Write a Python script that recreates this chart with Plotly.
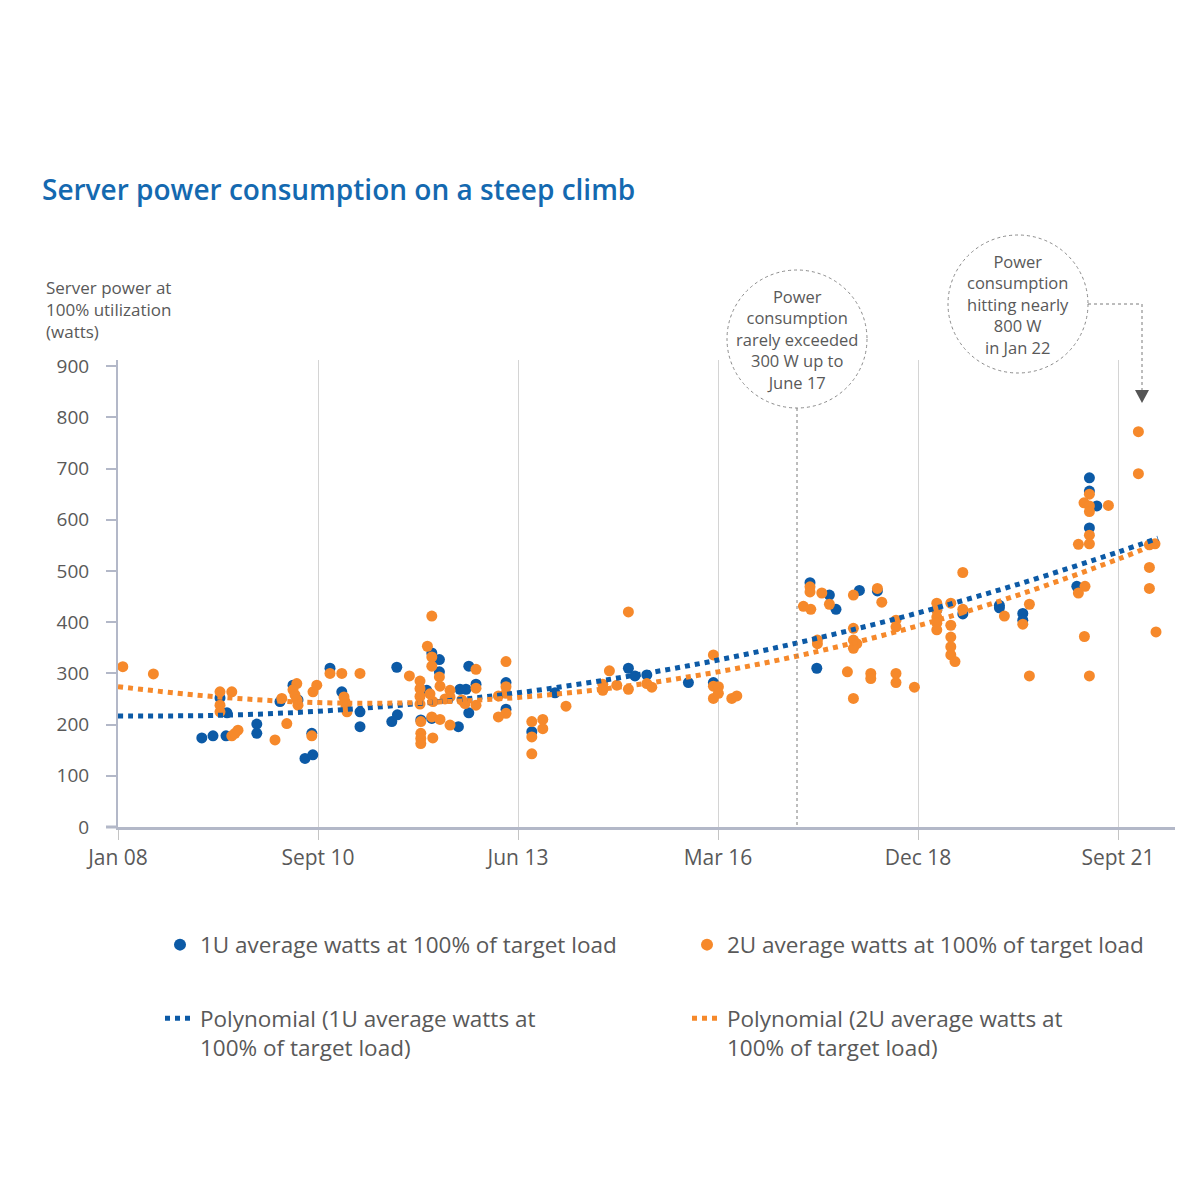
import plotly.graph_objects as go

# ---------------- data (x = days since 1 Jan 2008, y = watts) ----------------
tick_days = [0, 1000, 2000, 3000, 4000, 5000]
tick_labels = ["Jan 08", "Sept 10", "Jun 13", "Mar 16", "Dec 18", "Sept 21"]
y_ticks = [0, 100, 200, 300, 400, 500, 600, 700, 800, 900]

u1_days = [419, 475, 540, 545, 510, 694, 694, 810, 875, 900, 935, 974, 969, 1060, 1119,
           1210, 1210, 1394, 1369, 1397, 1569, 1607, 1607, 1544, 1569, 1514, 1710, 1740,
           1754, 1790, 1754, 1702, 1940, 1940, 2069, 2185, 2552, 2585, 2644, 2852, 2977,
           3460, 3557, 3590, 3494, 3707, 3797, 4094, 4224, 4407, 4407, 4524, 4524, 4794,
           4857, 4857, 4894, 4857]
u1_watts = [174, 178, 178, 223, 252, 201, 183, 245, 277, 248, 134, 141, 183, 310, 264,
            225, 196, 312, 206, 219, 340, 327, 303, 267, 212, 209, 269, 269,
            314, 279, 223, 196, 282, 230, 186, 262, 310, 295, 297, 282, 282,
            477, 453, 425, 310, 462, 461, 424, 416, 433, 428, 417, 404, 470,
            682, 656, 627, 584]

u2_days = [24, 177, 510, 569, 510, 510, 569, 585, 600, 785, 819, 844, 894, 875, 885, 895,
           900, 975, 994, 969, 1060, 1119, 1210, 1130, 1135, 1140, 1145, 1457, 1569, 1547,
           1569, 1569, 1607, 1510, 1510, 1510, 1510, 1560, 1575, 1610, 1635, 1660, 1660,
           1719, 1735, 1790, 1790, 1790, 1660, 1569, 1610, 1514, 1514, 1514, 1514, 1574,
           1940, 1940, 1902, 1940, 1940, 1902, 2069, 2069, 2124, 2124, 2069, 2240, 2457,
           2424, 2424, 2552, 2494, 2552, 2644, 2669, 2977, 2977, 3002, 2977, 3002, 3069,
           3094, 3460, 3460, 3427, 3464, 3519, 3557, 3497, 3497, 3677, 3677, 3677, 3694,
           3677, 3647, 3677, 3797, 3819, 3764, 3764, 3890, 3890, 3890, 3890, 3982, 4094,
           4094, 4094, 4094, 4094, 4164, 4164, 4164, 4164, 4164, 4185, 4224, 4224, 4432,
           4524, 4557, 4557, 4830, 4857, 4857, 4857, 4952, 4857, 4857, 4802, 4802, 4835,
           4832, 4857, 5102, 5102, 5157, 5185, 5157, 5157, 5190]
u2_watts = [313, 299, 264, 264, 238, 225, 178, 183, 189, 170, 251, 202, 280, 268, 258, 248,
            238, 264, 277, 178, 300, 300, 300, 254, 245, 235, 225, 295, 412, 353,
            332, 314, 293, 285, 270, 255, 240, 260, 245, 275, 250, 267, 254,
            248, 241, 308, 271, 238, 199, 215, 210, 206, 183, 173, 163, 174,
            323, 274, 256, 261, 222, 215, 206, 176, 210, 192, 143, 236, 305,
            279, 267, 420, 277, 269, 280, 273, 336, 275, 274, 251, 261, 251,
            256, 469, 459, 431, 425, 457, 435, 365, 358, 453, 388, 365, 358,
            349, 303, 251, 466, 439, 300, 290, 404, 391, 300, 282, 273, 437,
            424, 410, 398, 385, 437, 394, 371, 352, 336, 323, 497, 425, 412,
            396, 435, 295, 633, 627, 616, 650, 628, 570, 553, 552, 457, 470,
            372, 295, 772, 690, 551, 553, 507, 466, 381]

# polynomial trendlines, values
trend_days = [0, 500, 1000, 1500, 2000, 2500, 3000, 3500, 4000, 4500, 5000, 5200]
trend_u1 = [217, 218, 226, 241, 262, 291, 326, 369, 418, 474, 537, 564]
trend_u2 = [274, 254, 243, 243, 253, 273, 303, 343, 393, 453, 523, 554]

# ---------------- style ----------------
BLUE = "#0c5aa6"
ORANGE = "#f6892b"
GRAY = "#595959"
AXIS = "#b3b8c8"
FONT = "Open Sans"

OFF = 8  # page offset of the figure inside the browser window
# plot area in page pixels
L, R, T, B = 118, 1175, 360, 827
W, H = R - L, B - T


def px(xp):
    return (xp - L) / W


def py(yp):
    return (B - yp) / H


fig = go.Figure()
fig.add_trace(go.Scatter(x=u1_days, y=u1_watts, mode="markers", name="1U average watts at 100% of target load",
                         marker=dict(color=BLUE, size=11, line=dict(width=0)), legend="legend"))
fig.add_trace(go.Scatter(x=u2_days, y=u2_watts, mode="markers", name="2U average watts at 100% of target load",
                         marker=dict(color=ORANGE, size=11, line=dict(width=0)), legend="legend2"))
fig.add_trace(go.Scatter(x=trend_days, y=trend_u1, mode="lines", line_shape="spline",
                         name="Polynomial (1U average watts at<br>100% of target load)",
                         line=dict(color=BLUE, width=5, dash="5px,5px"), legend="legend3"))
fig.add_trace(go.Scatter(x=trend_days, y=trend_u2, mode="lines", line_shape="spline",
                         name="Polynomial (2U average watts at<br>100% of target load)",
                         line=dict(color=ORANGE, width=5, dash="5px,5px"), legend="legend4"))

LEG_FONT = dict(size=22.5, color=GRAY)
COL1, COL2 = 160, 687


def leg(xpage, ypage, anchor, valign="middle", sizing="trace"):
    return dict(orientation="h", x=px(xpage), y=py(ypage), xanchor="left", yanchor=anchor,
                font=LEG_FONT, bgcolor="rgba(0,0,0,0)", valign=valign, itemsizing=sizing)


fig.update_layout(
    width=1200, height=1200,
    margin=dict(l=L - OFF, r=1200 - (R - OFF), t=T - OFF, b=1200 - (B - OFF), pad=0),
    plot_bgcolor="white", paper_bgcolor="white",
    font=dict(family=FONT, color=GRAY),
    title=dict(text="Server power consumption on a steep climb", xref="container", yref="container",
               x=(42 - OFF) / 1200, xanchor="left", y=1 - (190 - OFF) / 1200, yanchor="middle",
               font=dict(family=FONT, size=28, color="#1469b0", weight=600)),
    xaxis=dict(range=[0, 5285], tickvals=tick_days, ticktext=tick_labels,
               showgrid=True, gridcolor="#d4d4d4", gridwidth=1,
               showline=True, linecolor=AXIS, linewidth=3,
               ticks="outside", ticklen=10, tickcolor="#c4c4c4", tickwidth=1,
               tickfont=dict(size=21, color=GRAY), zeroline=False),
    yaxis=dict(range=[0, 912], tickvals=y_ticks, showgrid=False, zeroline=False,
               showline=True, linecolor=AXIS, linewidth=2,
               ticks="outside", ticklen=10, tickcolor=AXIS, tickwidth=2,
               ticklabelstandoff=13, tickfont=dict(size=19, color=GRAY)),
    showlegend=True,
    legend=leg(COL1, 945, "middle", sizing="constant"),
    legend2=leg(COL2, 945, "middle", sizing="constant"),
    legend3=leg(COL1, 997, "top", valign="top"),
    legend4=leg(COL2, 997, "top", valign="top"),
)

# x-axis baseline runs a little past the y axis on the left
fig.add_shape(type="line", xref="paper", yref="paper", x0=px(106), x1=0, y0=0, y1=0,
              line=dict(color=AXIS, width=3))

# y-axis caption
fig.add_annotation(text="Server power at<br>100% utilization<br>(watts)", xref="paper", yref="paper",
                   x=px(44), y=py(274), xanchor="left", yanchor="top", align="left",
                   showarrow=False, font=dict(size=17, color=GRAY))

# callout circles
c1 = dict(x0=727, x1=867, y0=270, y1=408)
c2 = dict(x0=948, x1=1088, y0=235, y1=373)
for c in (c1, c2):
    fig.add_shape(type="circle", xref="paper", yref="paper",
                  x0=px(c["x0"]), x1=px(c["x1"]), y0=py(c["y1"]), y1=py(c["y0"]),
                  line=dict(color="#8a8a8a", width=1, dash="dot"))

fig.add_annotation(text="Power<br>consumption<br>rarely exceeded<br>300 W up to<br>June 17",
                   xref="paper", yref="paper", x=px(797), y=py(339), xanchor="center", yanchor="middle",
                   showarrow=False, font=dict(size=16.5, color=GRAY))
fig.add_annotation(text="Power<br>consumption<br>hitting nearly<br>800 W<br>in Jan 22",
                   xref="paper", yref="paper", x=px(1018), y=py(304), xanchor="center", yanchor="middle",
                   showarrow=False, font=dict(size=16.5, color=GRAY))

# dotted leader from first circle down to the axis
fig.add_shape(type="line", xref="paper", yref="paper", x0=px(797), x1=px(797), y0=py(408), y1=0,
              line=dict(color="#7a7a7a", width=1, dash="dot"))
# dotted elbow connector from second circle to the arrow
fig.add_shape(type="path", xref="paper", yref="paper",
              path=f"M {px(1088)},{py(304)} L {px(1142)},{py(304)} L {px(1142)},{py(390)}",
              line=dict(color="#7a7a7a", width=1, dash="dot"))
fig.add_shape(type="path", xref="paper", yref="paper",
              path=f"M {px(1135)},{py(390)} L {px(1149)},{py(390)} L {px(1142)},{py(403)} Z",
              fillcolor="#555555", line=dict(color="#555555", width=0))

fig.write_html("out.html")
